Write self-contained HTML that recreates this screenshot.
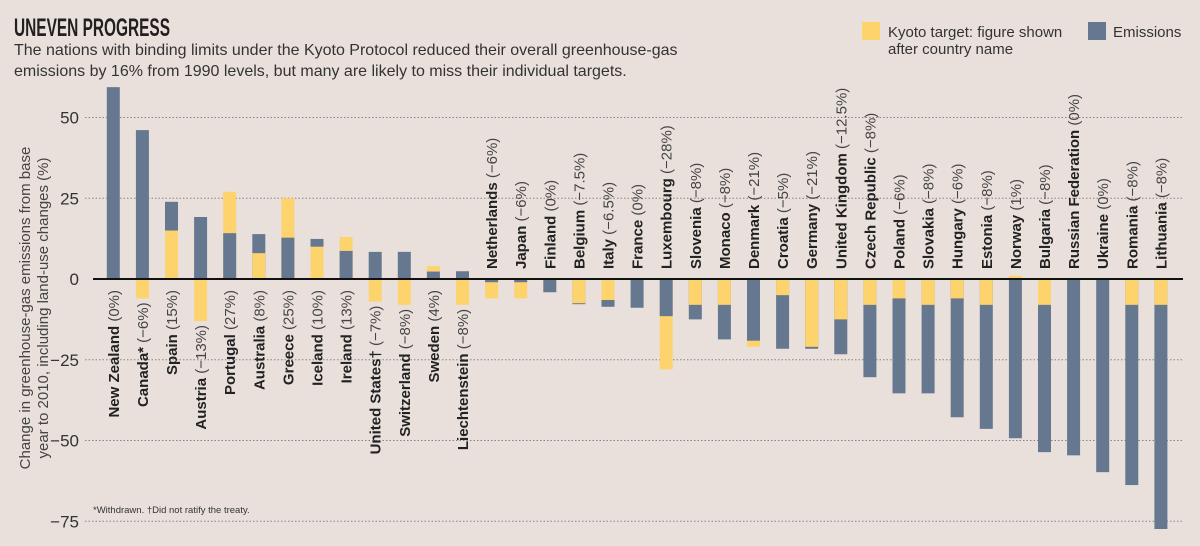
<!DOCTYPE html>
<html><head><meta charset="utf-8"><style>
body{margin:0;background:#e9e0dc;}
svg{display:block;font-family:"Liberation Sans",sans-serif;}
</style></head><body>
<svg id="chart" width="1200" height="546" viewBox="0 0 1200 546">
<rect width="1200" height="546" fill="#e9e0dc"/>
<text x="14" y="36" font-size="25" font-weight="bold" fill="#231f20" textLength="156" lengthAdjust="spacingAndGlyphs">UNEVEN PROGRESS</text>
<text x="14" y="55" font-size="16" fill="#333">The nations with binding limits under the Kyoto Protocol reduced their overall greenhouse-gas</text>
<text x="14" y="76" font-size="16" fill="#333">emissions by 16% from 1990 levels, but many are likely to miss their individual targets.</text>
<g>
<rect x="862" y="22" width="18" height="18" fill="#fdd36d"/>
<text x="888" y="37" font-size="15" fill="#333">Kyoto target: figure shown</text>
<text x="888" y="54" font-size="15" fill="#333">after country name</text>
<rect x="1088" y="22" width="18" height="18" fill="#66788f"/>
<text x="1113" y="37" font-size="15" fill="#333">Emissions</text>
</g>
<g font-size="15" fill="#444">
<text transform="translate(30,308) rotate(-90)" text-anchor="middle">Change in greenhouse-gas emissions from base</text>
<text transform="translate(48,308) rotate(-90)" text-anchor="middle">year to 2010, including land-use changes (%)</text>
</g>
<g id="grid"></g><g id="bars"></g><g id="labels"></g>
<text x="93" y="513" font-size="9.5" fill="#333">*Withdrawn.  †Did not ratify the treaty.</text>
</svg>
<script>
const countries=["New Zealand","Canada*","Spain","Austria","Portugal","Australia","Greece","Iceland","Ireland","United States†","Switzerland","Sweden","Liechtenstein","Netherlands","Japan","Finland","Belgium","Italy","France","Luxembourg","Slovenia","Monaco","Denmark","Croatia","Germany","United Kingdom","Czech Republic","Poland","Slovakia","Hungary","Estonia","Norway","Bulgaria","Russian Federation","Ukraine","Romania","Lithuania"];
const targets=[0,-6,15,-13,27,8,25,10,13,-7,-8,4,-8,-6,-6,0,-7.5,-6.5,0,-28,-8,-8,-21,-5,-21,-12.5,-8,-6,-8,-6,-8,1,-8,0,0,-8,-8];
const targetLabels=["0%","−6%","15%","−13%","27%","8%","25%","10%","13%","−7%","−8%","4%","−8%","−6%","−6%","0%","−7.5%","−6.5%","0%","−28%","−8%","−8%","−21%","−5%","−21%","−12.5%","−8%","−6%","−8%","−6%","−8%","1%","−8%","0%","0%","−8%","−8%"];
const emissions=[59.4,46.1,23.9,19.2,14.2,13.9,12.8,12.4,8.7,8.4,8.4,2.3,2.4,-1,-1,-4.1,-7.8,-8.6,-8.9,-11.5,-12.5,-18.7,-19.1,-21.6,-21.6,-23.3,-30.4,-35.4,-35.4,-42.8,-46.4,-49.3,-53.6,-54.6,-59.8,-63.8,-77.4];
const ticks=[50,25,0,-25,-50,-75];
const tickLabels=["50","25","0","−25","−50","−75"];
const NS="http://www.w3.org/2000/svg";
const y=v=>279-v*3.23;
const x=i=>113.3+i*29.1;
const BW=13;
function mk(tag,attrs,parent){const e=document.createElementNS(NS,tag);for(const k in attrs)e.setAttribute(k,attrs[k]);parent.appendChild(e);return e;}
const grid=document.getElementById('grid'),bars=document.getElementById('bars'),labels=document.getElementById('labels');
ticks.forEach((t,i)=>{
 if(t!==0){const l=mk('line',{x1:85,x2:1182,y1:y(t),y2:y(t),stroke:'#8a8282','stroke-width':1,'stroke-dasharray':'1.5 2'},grid);
 
 }
 const tx=mk('text',{x:79,y:y(t)+6,'font-size':17,'text-anchor':'end',fill:'#333'},grid);
 tx.textContent=tickLabels[i];
 
 
});
function bar(i,v,color,name){const y0=y(0),y1=y(v);const r=mk('rect',{x:x(i)-BW/2,y:Math.min(y0,y1),width:BW,height:Math.abs(y1-y0),fill:color},bars);
 
 }
countries.forEach((c,i)=>{
 const e=emissions[i],t=targets[i];
 if(Math.abs(e)>=Math.abs(t)){bar(i,e,'#66788f','emissions-bar');bar(i,t,'#fdd36d','kyoto-target-bar');}
 else{bar(i,t,'#fdd36d','kyoto-target-bar');bar(i,e,'#66788f','emissions-bar');}
 const neg=e<0;
 const ly=neg?269:Math.max(290,t<0?y(t)+4:0);
 const tx=mk('text',{transform:`translate(${x(i)+5.5},${ly}) rotate(-90)`,'font-size':15,'text-anchor':neg?'start':'end',fill:'#222'},labels);
 const b=mk('tspan',{'font-weight':'bold'},tx);b.textContent=c;
 const p=mk('tspan',{fill:'#444'},tx);p.textContent=' ('+targetLabels[i]+')';
 
 
});
const z=mk('line',{x1:93,x2:1183,y1:y(0),y2:y(0),stroke:'#111','stroke-width':2},bars);


</script>
</body></html>
